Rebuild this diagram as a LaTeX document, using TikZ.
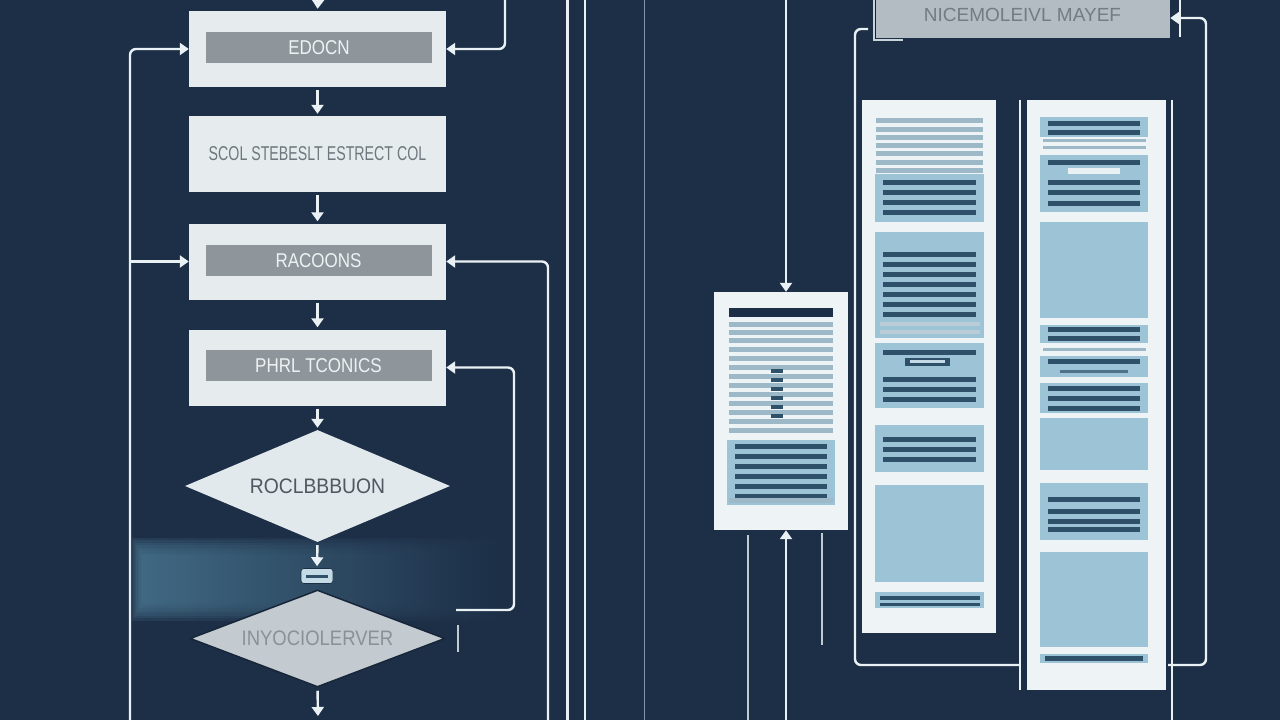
\documentclass[tikz,border=0pt]{standalone}
\usepackage{fontspec}
\setmainfont{Liberation Sans}
\usepackage{graphicx}
\usetikzlibrary{shapes.geometric,arrows.meta}
\definecolor{bg}{HTML}{1D2F47}
\definecolor{boxfill}{HTML}{E6ECEE}
\definecolor{barc}{HTML}{8E969C}
\definecolor{bartext}{HTML}{EEF2F3}
\definecolor{graytext}{HTML}{6E777D}
\definecolor{dfill}{HTML}{E2E9EC}
\definecolor{dfilltwo}{HTML}{C3CBD0}
\definecolor{dtext}{HTML}{4E5860}
\definecolor{dtexttwo}{HTML}{8A9298}
\definecolor{linec}{HTML}{EAF1F4}
\definecolor{thinc}{HTML}{8096AA}
\definecolor{docfill}{HTML}{EEF4F5}
\definecolor{lblue}{HTML}{9CC3D6}
\definecolor{dkstripe}{HTML}{2E5068}
\definecolor{mstripe}{HTML}{9DB8C6}
\definecolor{topfill}{HTML}{B3BCC2}
\definecolor{toptext}{HTML}{737C82}
\definecolor{hazea}{HTML}{4A7690}
\definecolor{hazeb}{HTML}{5A8AA3}
\newcommand\plainblk[4]{\fill[lblue] (#1,#2) rectangle (#3,#4);}
\newcommand\darkblk[5]{\fill[lblue] (#1,#2) rectangle (#3,#4);
  \foreach \yy in {#5} {\fill[dkstripe] ({#1+8},{\yy}) rectangle ({#3-8},{\yy+5});}}
\newcommand\lightstr[4]{\foreach \yy in {#3} {\fill[mstripe] (#1,{\yy}) rectangle (#2,{\yy+#4});}}
\tikzset{
  arr/.style={draw=linec, line width=2.4pt, -{Triangle[width=12pt,length=9pt]}},
  flow/.style={arr, shorten <=3pt, shorten >=2pt},
  conn/.style={draw=linec, line width=2.4pt},
  thinl/.style={draw=thinc, line width=1pt},
  faint/.style={draw=linec!80!bg, line width=1.2pt},
  flowbox/.style={rectangle, fill=boxfill, minimum width=257pt, minimum height=76pt, inner sep=0pt},
  barbox/.style={rectangle, fill=barc, minimum width=226pt, minimum height=31pt, inner sep=0pt,
    text=bartext, font=\fontsize{20}{20}\selectfont},
  dia/.style={diamond, inner sep=0pt, fill=dfill},
  docbox/.style={rectangle, fill=docfill, inner sep=0pt},
}
\begin{document}
\begin{tikzpicture}[x=1pt,y=-1pt]
\useasboundingbox (0,0) rectangle (1280,720);
\fill[bg] (0,0) rectangle (1280,720);
% haze band (soft stacked layers)
\foreach \i in {0,...,7} {
  \shade[left color=hazea, middle color=hazeb, right color=bg, opacity=0.2]
    ({132+\i*1.5},{538+\i*2.5}) rectangle ({520-\i*3},{620-\i*2.5});
}

% ---------------- left flow ----------------
\node[flowbox] (b1) at (317.5,49) {};
\node[barbox] (b1bar) at (319,47.5) {\scalebox{0.85}[1]{EDOCN}};
\node[flowbox, text=graytext, font=\fontsize{20}{20}\selectfont] (b2) at (317.5,154) {\scalebox{0.71}[1]{SCOL STEBESLT ESTRECT COL}};
\node[flowbox] (b3) at (317.5,261.5) {};
\node[barbox] (b3bar) at (318.5,260.5) {\scalebox{0.85}[1]{RACOONS}};
\node[flowbox] (b4) at (317.5,367.5) {};
\node[barbox] (b4bar) at (318.5,365.5) {\scalebox{0.85}[1]{PHRL TCONICS}};
\node[dia, aspect=2.37, minimum width=265pt, minimum height=112pt, text=dtext, font=\fontsize{21}{21}\selectfont] (d1) at (317.5,486) {\scalebox{0.92}[1]{ROCLBBBUON}};
\node[rectangle, rounded corners=3pt, fill=lblue!60!white, draw=bg, line width=0.6pt, minimum width=32pt, minimum height=15pt, inner sep=0pt] (tiny) at (317,576) {};
\fill[dkstripe] (306,575) rectangle (328,578);
\node[diamond, aspect=2.63, inner sep=0pt, fill=dfilltwo, draw=bg!80!black, line width=1.5pt, minimum width=255pt, minimum height=97pt, text=dtexttwo, font=\fontsize{21}{21}\selectfont] (d2) at (317.5,638.5) {\scalebox{0.88}[1]{INYOCIOLERVER}};

\coordinate (top1) at (318,0);
\coordinate (bot1) at (318,718);
\draw[flow] (top1) -- (b1.north);
\draw[flow] (b1.south) -- (b2.north);
\draw[flow] (b2.south) -- (b3.north);
\draw[flow] (b3.south) -- (b4.north);
\draw[flow] (b4.south) -- (d1.north);
\draw[flow] (d1.south) -- (tiny.north);
\draw[flow] (d2.south) -- (bot1);

% feedback loops
\coordinate (lb) at (130,720);
\coordinate (lj) at (130,261.5);
\draw[arr, rounded corners=6pt] (lb) |- (b1.west);
\draw[arr] (lj) -- (b3.west);
\coordinate (rt) at (505,0);
\draw[arr, rounded corners=6pt] (rt) |- (b1.east);
\coordinate (rb3) at (548,720);
\draw[arr, rounded corners=6pt] (rb3) |- (b3.east);
\coordinate (r4) at (456,610);
\coordinate (r4c) at (514,610);
\draw[arr, rounded corners=6pt] (r4) -- (r4c) |- (b4.east);
\coordinate (f1) at (458,625);
\coordinate (f2) at (458,652);
\draw[faint] (f1) -- (f2);

% long vertical lines
\coordinate (v1t) at (567,0); \coordinate (v1b) at (567,720);
\coordinate (v2t) at (585,0); \coordinate (v2b) at (585,720);
\coordinate (v3t) at (644,0); \coordinate (v3b) at (644,720);
\draw[conn, line width=3pt] (v1t) -- (v1b);
\draw[conn, line width=2.2pt] (v2t) -- (v2b);
\draw[thinl] (v3t) -- (v3b);

% ---------------- right part ----------------
% top gray box
\node[rectangle, fill=topfill, inner sep=0pt, minimum width=295pt, minimum height=46pt, text=toptext, font=\fontsize{19}{19}\selectfont] (tb) at (1022.5,15) {NICEMOLEIVL MAYEF};
\draw[draw=bg!70!black, line width=2pt] (875,0) -- (875,39);
\draw[draw=linec!85!bg, line width=1.6pt] (874,0) -- (874,40) -- (903,40);
\coordinate (tbmark1) at (1180,0); \coordinate (tbmark2) at (1180,37);
\draw[conn, line width=1.6pt] (tbmark1) -- (tbmark2);

% document 1
\node[docbox, minimum width=134pt, minimum height=238pt] (docA) at (780.5,411) {};
\fill[bg] (729,308) rectangle (833,317);
\lightstr{729}{833}{322,330,338,347,356,365,374,383,392,401,410,419,428}{5}
\darkblk{727}{440}{835}{505}{444,454,464,474,484,494}
\fill[mstripe] (729,498) rectangle (833,503);
\foreach \yy in {369,378,387,396,405,414} {\fill[dkstripe] (771,{\yy}) rectangle (783,{\yy+4});}
\coordinate (aTop) at (786,0);
\coordinate (aBot) at (786,720);
\draw[arr] (aTop) -- (aTop |- docA.north);
\draw[arr] (aBot) -- (aBot |- docA.south);
\coordinate (t1a) at (748,535); \coordinate (t1b) at (748,720);
\coordinate (t2a) at (822,533); \coordinate (t2b) at (822,645);
\draw[faint] (t1a) -- (t1b);
\draw[faint] (t2a) -- (t2b);

% column 2
\node[docbox, minimum width=134pt, minimum height=533pt] (colB) at (929,366.5) {};
\lightstr{876}{983}{118,127,135,143,151,160,168}{5}
\darkblk{875}{174}{984}{222}{180,190,200,210}
\darkblk{875}{232}{984}{338}{252,262,272,282,292,302,312}
\fill[mstripe!70!white] (880,322) rectangle (980,326);
\fill[mstripe!70!white] (880,330) rectangle (980,334);
\darkblk{875}{343}{984}{408}{350,377,387,397}
\fill[dkstripe] (905,358) rectangle (950,366);
\fill[lblue!60!white] (910,360) rectangle (945,363);
\darkblk{875}{425}{984}{472}{437,447,457}
\plainblk{875}{485}{984}{582}
\fill[lblue] (875,592) rectangle (984,608);
\fill[dkstripe] (880,596) rectangle (980,600);
\fill[dkstripe] (880,603) rectangle (980,606);

% column 3
\node[docbox, minimum width=139pt, minimum height=590pt] (colC) at (1096.5,395) {};
\coordinate (c3la) at (1020,100); \coordinate (c3lb) at (1020,690);
\coordinate (c3ra) at (1172,100); \coordinate (c3rb) at (1172,720);
\draw[conn, line width=2pt] (c3la) -- (c3lb);
\draw[conn, line width=2pt] (c3ra) -- (c3rb);
\darkblk{1040}{117}{1148}{137}{121,130}
\lightstr{1043}{1146}{139,146}{3}
\darkblk{1040}{155}{1148}{212}{160,180,190,201}
\fill[linec] (1068,168) rectangle (1120,174);
\plainblk{1040}{222}{1148}{318}
\darkblk{1040}{325}{1148}{343}{327,336}
\fill[mstripe] (1043,348) rectangle (1146,351);
\darkblk{1040}{356}{1148}{377}{359}
\fill[dkstripe!70!lblue] (1060,370) rectangle (1128,373);
\darkblk{1040}{383}{1148}{413}{386,396,406}
\plainblk{1040}{418}{1148}{470}
\darkblk{1040}{483}{1148}{540}{497,509,519,527}
\plainblk{1040}{552}{1148}{647}
\fill[lblue] (1040,654) rectangle (1148,663);
\fill[dkstripe] (1045,656) rectangle (1143,661);

% right-side connectors
\coordinate (lc1) at (1020,665);
\coordinate (lc2) at (855,665);
\coordinate (lc3) at (855,29);
\coordinate (lc4) at (868,29);
\draw[conn, rounded corners=6pt] (lc1) -- (lc2) -- (lc3) -- (lc4);
\coordinate (rc1) at (1168,665);
\coordinate (rc2) at (1206,665);
\draw[arr, rounded corners=6pt] (rc1) -- (rc2) |- ([yshift=-3pt]tb.east);
\end{tikzpicture}
\end{document}
